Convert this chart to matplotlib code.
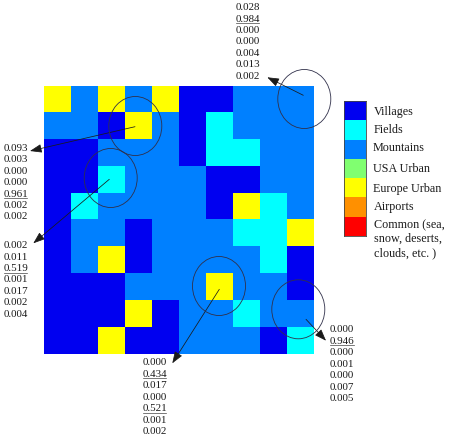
import matplotlib
matplotlib.use('Agg')
import matplotlib.pyplot as plt
import numpy as np
from matplotlib.colors import ListedColormap
from matplotlib.lines import Line2D
from matplotlib.patches import Ellipse

W, H = 474, 437

class_names = ['Villages', 'Fields', 'Mountains', 'USA Urban', 'Europe Urban', 'Airports',
               'Common (sea,\nsnow, deserts,\nclouds, etc. )']
class_colors = ['#0000f0', '#00ffff', '#0080ff', '#80ff70', '#ffff00', '#ff9000', '#ff0000']

# 0 villages, 1 fields, 2 mountains, 4 europe urban
som_map = [
    [4, 2, 4, 2, 4, 0, 0, 2, 2, 2],
    [2, 2, 0, 4, 2, 0, 1, 2, 2, 2],
    [0, 0, 2, 2, 2, 0, 1, 1, 2, 2],
    [0, 0, 1, 2, 2, 2, 0, 0, 2, 2],
    [0, 1, 2, 2, 2, 2, 0, 4, 1, 2],
    [0, 2, 2, 0, 2, 2, 2, 1, 1, 4],
    [0, 2, 4, 0, 2, 2, 2, 2, 1, 0],
    [0, 0, 0, 2, 2, 2, 4, 2, 2, 0],
    [0, 0, 0, 4, 0, 2, 2, 1, 2, 2],
    [0, 0, 4, 0, 0, 2, 2, 2, 0, 1],
]

top_values = ['0.028', '0.984', '0.000', '0.000', '0.004', '0.013', '0.002']
left_upper_values = ['0.093', '0.003', '0.000', '0.000', '0.961', '0.002', '0.002']
left_lower_values = ['0.002', '0.011', '0.519', '0.001', '0.017', '0.002', '0.004']
bottom_values = ['0.000', '0.434', '0.017', '0.000', '0.521', '0.001', '0.002']
right_values = ['0.000', '0.946', '0.000', '0.001', '0.000', '0.007', '0.005']

serif = 'Liberation Serif'


def fig_xy(x, y):
    # picture pixels (origin top left) to figure fraction
    return x / W, 1 - y / H


def add_axes_px(fig, x0, y0, x1, y1):
    return fig.add_axes([x0 / W, 1 - y1 / H, (x1 - x0) / W, (y1 - y0) / H])


def draw_values(fig, values, x, y_first, step=11.45):
    for i, val in enumerate(values):
        y = y_first + i * step
        fx, fy = fig_xy(x, y + 3.4)
        fig.text(fx, fy, val, family=serif, fontsize=7.9, color='#1a1a1a', ha='left', va='baseline')
        if float(val) > 0.4:  # the winning classes are underlined
            x0, yl = fig_xy(x, y + 5)
            x1, _ = fig_xy(x + 23.5, y + 5)
            fig.add_artist(Line2D([x0, x1], [yl, yl], color='#444444', lw=0.5))


def draw_marker(fig, center, size, start, end):
    fx, fy = fig_xy(*center)
    fig.add_artist(Ellipse((fx, fy), size[0] / W, size[1] / H, fill=False,
                           ec='#30304a', lw=0.6, transform=fig.transFigure))
    ax_arrow = fig.axes[-1]
    ax_arrow.annotate('', xy=fig_xy(*end), xytext=fig_xy(*start),
                      xycoords='figure fraction', textcoords='figure fraction',
                      arrowprops=dict(arrowstyle='-|>,head_length=0.6,head_width=0.22', color='#1a1a1a',
                                      lw=0.55, shrinkA=0, shrinkB=0, mutation_scale=12))


def main():
    fig = plt.figure(figsize=(W / 100, H / 100), dpi=100, facecolor='white')
    cmap = ListedColormap(class_colors)

    ax = add_axes_px(fig, 43.5, 85.5, 313, 354)
    ax.imshow(np.array(som_map), cmap=cmap, vmin=-0.5, vmax=6.5, aspect='auto', interpolation='nearest')
    ax.axis('off')

    ax_leg = add_axes_px(fig, 344, 101, 366, 236)
    ax_leg.pcolormesh(np.arange(len(class_names)).reshape(-1, 1), cmap=cmap, vmin=-0.5, vmax=6.5)
    ax_leg.invert_yaxis()
    ax_leg.set_xticks([])
    ax_leg.set_yticks([])
    for spine in ax_leg.spines.values():
        spine.set_linewidth(0.6)
        spine.set_color('#444444')

    label_pos = [(374.3, 112), (373.3, 130), (372.7, 148), (372.7, 169), (373, 188.7), (374, 207), (374, 239)]
    for name, (x, y) in zip(class_names, label_pos):
        fx, fy = fig_xy(x, y)
        fig.text(fx, fy, name, family=serif, fontsize=8.7, color='#1a1a1a', ha='left', va='center',
                 linespacing=1.22)

    draw_values(fig, top_values, 235.7, 6.7)
    draw_values(fig, left_upper_values, 3.7, 147.3)
    draw_values(fig, left_lower_values, 3.7, 244.7)
    draw_values(fig, bottom_values, 142.7, 362)
    draw_values(fig, right_values, 330, 329)

    draw_marker(fig, (304.3, 99), (53, 59), (303.3, 95.3), (267.3, 77.3))
    draw_marker(fig, (135.3, 126), (53, 59), (135, 126.7), (30, 151))
    draw_marker(fig, (110.7, 178), (53, 59), (109.3, 179.3), (33.3, 243.3))
    draw_marker(fig, (219, 286), (53, 59), (219.3, 289.3), (172.3, 363.3))
    draw_marker(fig, (298.3, 309.3), (53, 59), (306, 319.3), (326, 340.7))

    fig.savefig('out.png', dpi=100)
    plt.close(fig)


if __name__ == '__main__':
    main()
